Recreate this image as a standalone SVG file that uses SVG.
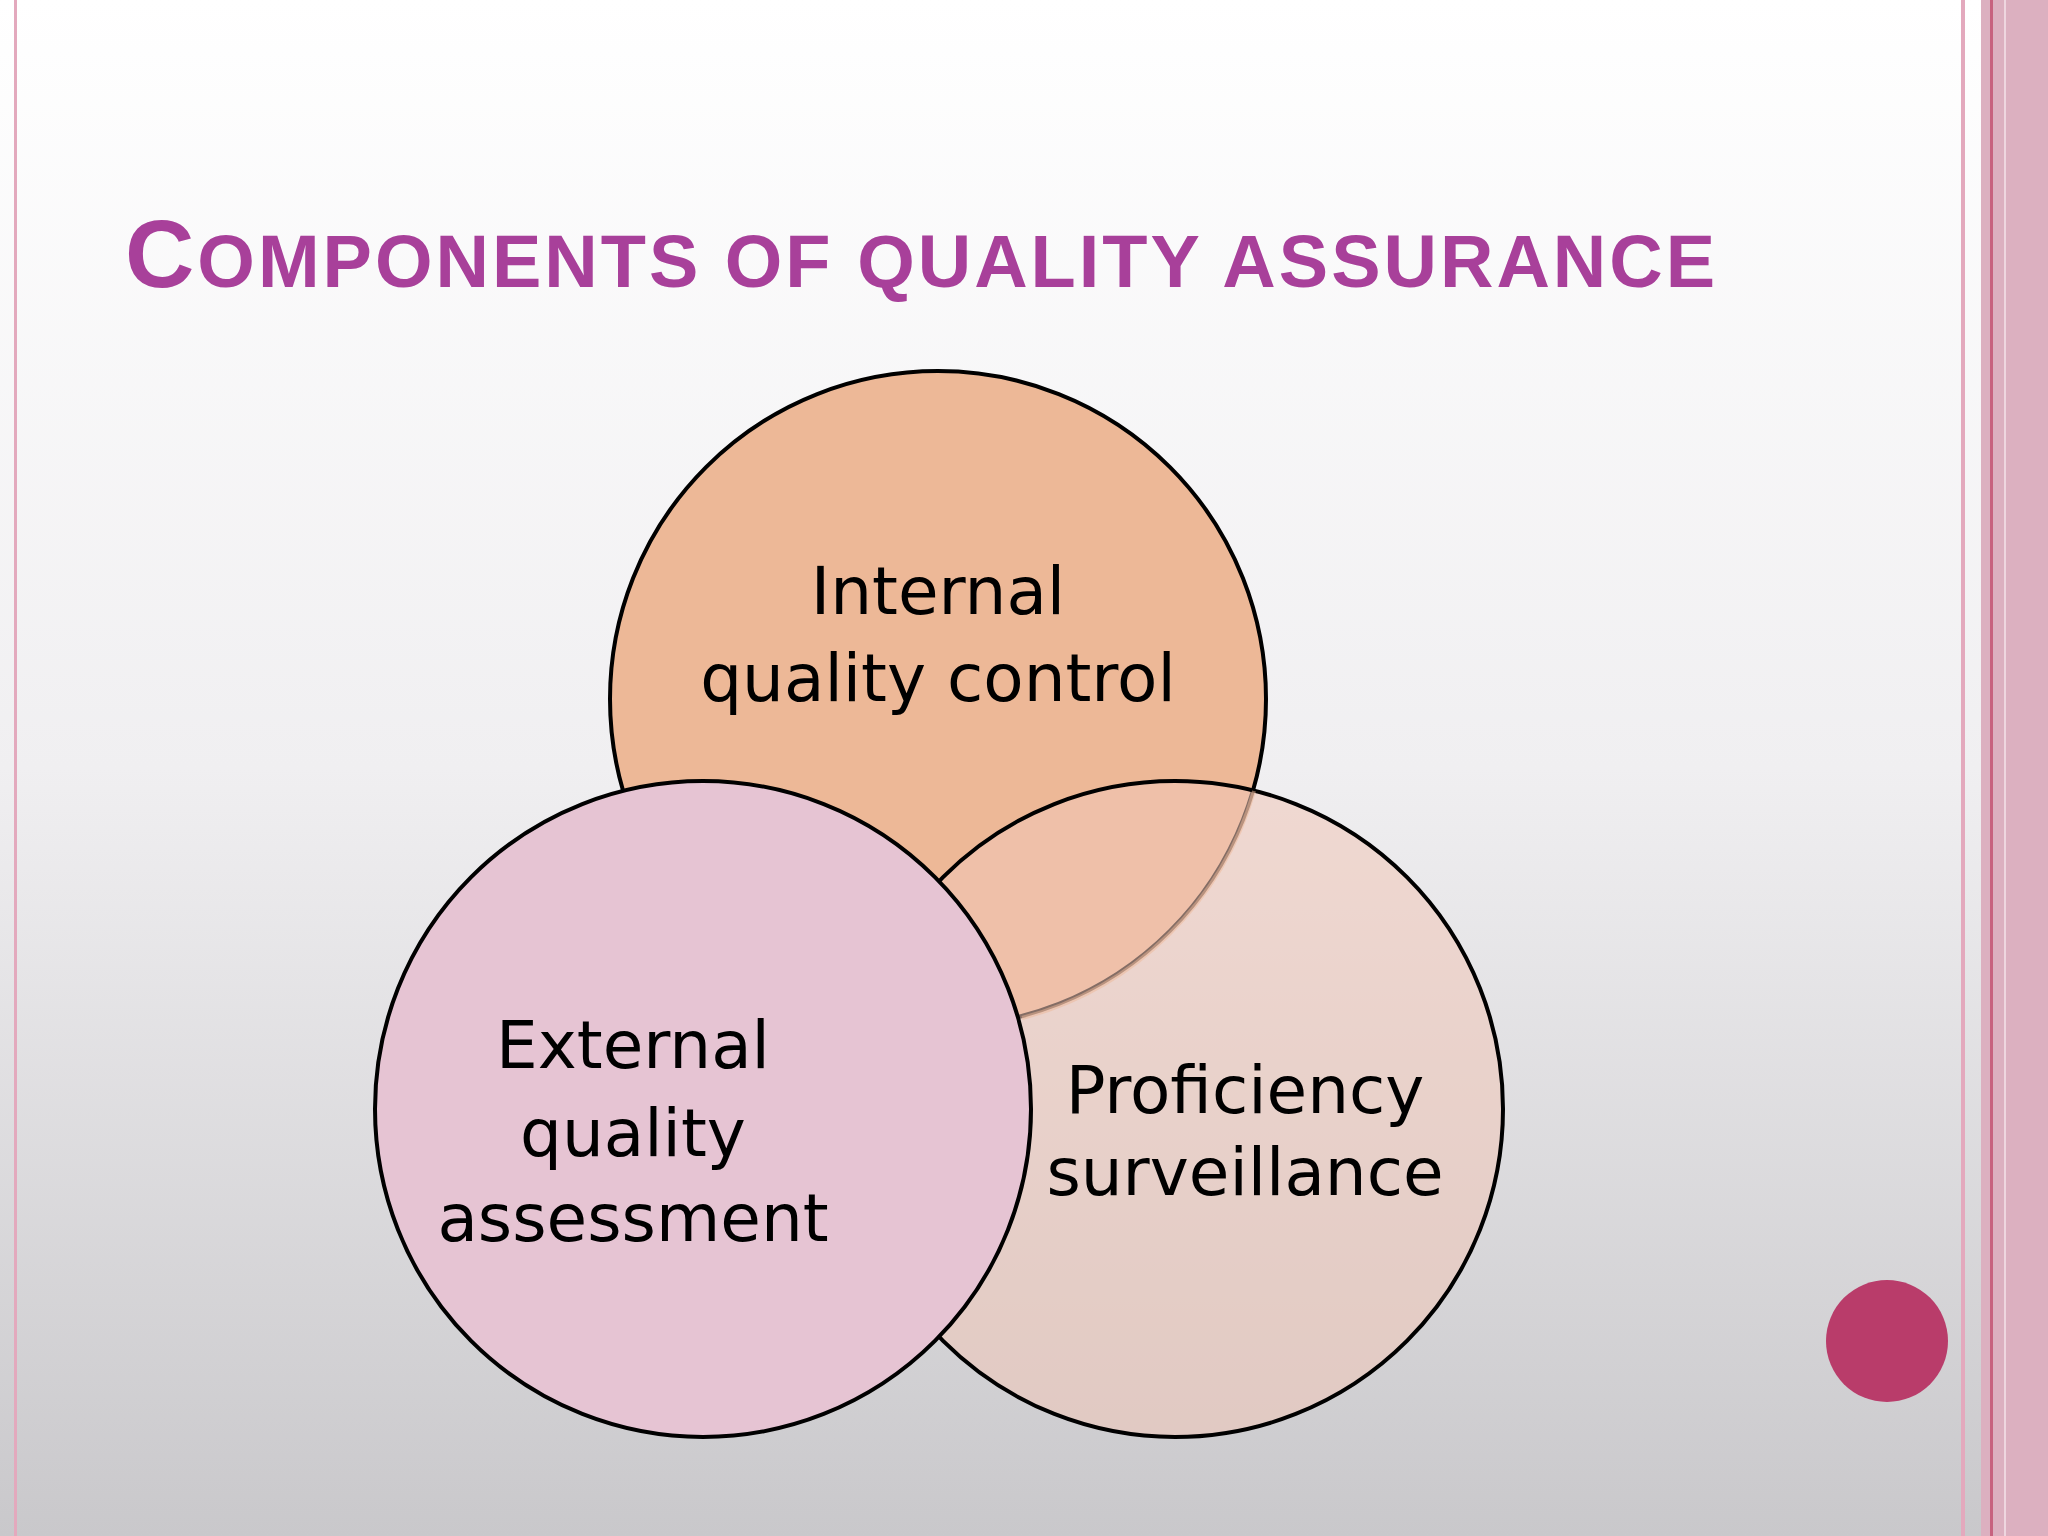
<svg xmlns="http://www.w3.org/2000/svg" width="2048" height="1536" viewBox="0 0 2048 1536">
<defs>
<linearGradient id="bg" x1="0" y1="0" x2="0" y2="1">
<stop offset="0" stop-color="#ffffff"/><stop offset="0.5" stop-color="#f0eff1"/><stop offset="1" stop-color="#c9c8cb"/>
</linearGradient>
</defs>
<style>
.lbl{font-family:"DejaVu Sans","Liberation Sans",sans-serif;font-size:66px;fill:#000;text-anchor:middle}
.c{stroke:#000;stroke-width:4}
</style>
<rect width="2048" height="1536" fill="url(#bg)"/>
<rect x="14" y="0" width="3" height="1536" fill="#e3a9bd"/>
<rect x="1961" y="0" width="4" height="1536" fill="#e3a9bd"/>
<rect x="1981" y="0" width="67" height="1536" fill="#dcb0c0"/>
<rect x="1990" y="0" width="3" height="1536" fill="#c7627f"/>
<rect x="2004" y="0" width="2" height="1536" fill="#eed6df"/>
<text x="125" y="287" font-family="Liberation Sans,Arial,sans-serif" font-weight="bold" fill="#a8409a" font-size="74" letter-spacing="3"><tspan font-size="96">C</tspan>OMPONENTS OF QUALITY ASSURANCE</text>
<g id="top"><circle class="c" cx="938" cy="699" r="328" fill="#edb897"/>
<text class="lbl" x="938" y="614">Internal</text><text class="lbl" x="938" y="701">quality control</text></g>
<g id="right"><circle class="c" cx="1175" cy="1109" r="328" fill="#f0c7b8" fill-opacity="0.55" stroke-opacity="1"/>
<path d="M1254,791 A328,328 0 0,1 1022,1018" fill="none" stroke="#edb897" stroke-width="4" stroke-opacity="0.5"/>
<text class="lbl" x="1245" y="1113">Proficiency</text><text class="lbl" x="1245" y="1195">surveillance</text></g>
<g id="left"><circle class="c" cx="703" cy="1109" r="328" fill="#e6c4d3"/>
<text class="lbl" x="633" y="1068">External</text><text class="lbl" x="633" y="1156">quality</text><text class="lbl" x="633" y="1241">assessment</text></g>
<circle cx="1887" cy="1341" r="61" fill="#b93c6a"/>
</svg>
